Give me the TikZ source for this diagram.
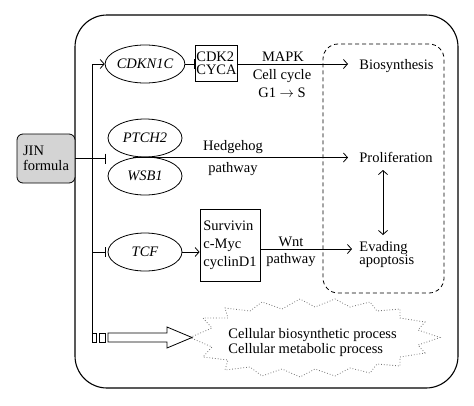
\documentclass[tikz,border=0pt]{standalone}
\usepackage{fontspec}
\setmainfont{Liberation Serif}
\usetikzlibrary{shapes.geometric,arrows.meta}
\begin{document}
\begin{tikzpicture}[x=1pt,y=-1pt,
  line width=0.8pt,
  >={Straight Barb[length=4pt,width=9pt]},
  inh/.style={-{Bar[width=10pt]}},
  txt/.style={font=\fontsize{14.5}{13}\selectfont, inner sep=0pt},
  gene/.style={ellipse, draw, minimum width=74pt, minimum height=38pt, inner sep=0pt, font=\fontsize{14.5}{13}\selectfont\itshape},
  protbox/.style={draw, inner sep=1pt, font=\fontsize{14.5}{13}\selectfont, align=left},
]
\useasboundingbox (0,0) rectangle (474,405);
% outer cell
\node[draw, line width=1.1pt, rounded corners=32pt, minimum width=383pt, minimum height=373pt, inner sep=0pt] (cell) at (266.5,201.5) {};
% dashed box
\node[draw, dashed, dash pattern=on 4pt off 3pt, rounded corners=15pt, minimum width=121pt, minimum height=249pt, inner sep=0pt] (dash) at (383.5,168.5) {};
% JIN formula
\node[draw, fill=black!17, rounded corners=6pt, minimum width=58pt, minimum height=49pt, inner sep=0pt, align=left, font=\fontsize{14.5}{15}\selectfont] (jin) at (46,158.5) {JIN\\formula};
% genes
\node[gene] (cdkn) at (145,64) {CDKN1C};
\node[gene] (ptch) at (145,138) {PTCH2};
\node[gene] (wsb) at (145,176) {WSB1};
\node[gene] (tcf) at (145,252) {TCF};
% protein boxes
\node[protbox, minimum width=41pt, minimum height=36pt] (cdk) at (216.5,63) {CDK2\\CYCA};
\node[protbox, minimum width=60pt, minimum height=72pt, font=\fontsize{14.5}{18}\selectfont] (surv) at (230,245) {Survivin\\c-Myc\\cyclinD1};
% outcomes
\node[txt, anchor=west] (bio) at (359,66) {Biosynthesis};
\node[txt, anchor=west] (prol) at (359,157) {Proliferation};
\node[txt, anchor=west, align=left] (evad) at (359,254.5) {Evading\\apoptosis};
% labels
\node[txt] (mapk) at (283,57) {MAPK};
\node[txt] (cc1) at (282,76.5) {Cell cycle};
\node[txt] (cc2) at (282,92.5) {G1 $\rightarrow$ S};
\node[txt] (hh1) at (233,147) {Hedgehog};
\node[txt] (hh2) at (233,169) {pathway};
\node[txt] (wnt1) at (291,242) {Wnt};
\node[txt] (wnt2) at (291,260) {pathway};
% coordinates
\coordinate (vtop) at (92,64);
\coordinate (vbot) at (92,333);
\coordinate (jbar) at (106,158.5);
\coordinate (hs) at (133,157.5);
\coordinate (bioT) at (348,64);
\coordinate (prolT) at (348,157.5);
\coordinate (evadT) at (352,249);
\coordinate (d1) at (383,170);
\coordinate (d2) at (383,235);
\coordinate (tbar) at (106,252);
% connectors
\draw (vtop) -- (vbot);
\draw[->] (vtop) -- (cdkn.west);
\draw[inh] (jin.east) -- (jbar);
\draw[inh] (cdkn.east) -- (cdkn.east -| cdk.west);
\draw[->] (cdkn.east -| cdk.east) -- (bioT);
\draw[->] (hs) -- (prolT);
\draw[inh] (vbot |- tcf) -- (tbar);
\draw[->] (tcf.east) -- (tcf.east -| surv.west);
\draw[->] (evadT -| surv.east) -- (evadT);
\draw[<->] (d1) -- (d2);
% bottom elements
\draw (92,333) rectangle (96.5,342);
\draw (99,333) rectangle (105.5,342);
\draw (108,333) -- (167,333) -- (167,327) -- (192,337.5) -- (167,348) -- (167,342) -- (108,342) -- cycle;
\draw[black!55, dotted, line width=0.8pt] (190,337.5) -- (212,328) -- (203,318) -- (228,318) -- (225,308) -- (250,311) -- (262,302) -- (282,309) -- (300,299) -- (315,307) -- (335,299) -- (350,307) -- (370,302) -- (377,311) -- (400,309) -- (400,318) -- (425,322) -- (418,330) -- (440,337.5) -- (418,345) -- (425,353) -- (400,357) -- (400,366) -- (377,364) -- (370,373) -- (350,368) -- (335,376) -- (315,369) -- (300,377) -- (282,369) -- (262,376) -- (250,367) -- (225,370) -- (228,360) -- (203,357) -- (212,347) -- cycle;
\node[txt, anchor=west, align=left, font=\fontsize{14.5}{15}\selectfont] (cell1) at (228,342.5) {Cellular biosynthetic process\\Cellular metabolic process};
\end{tikzpicture}
\end{document}
